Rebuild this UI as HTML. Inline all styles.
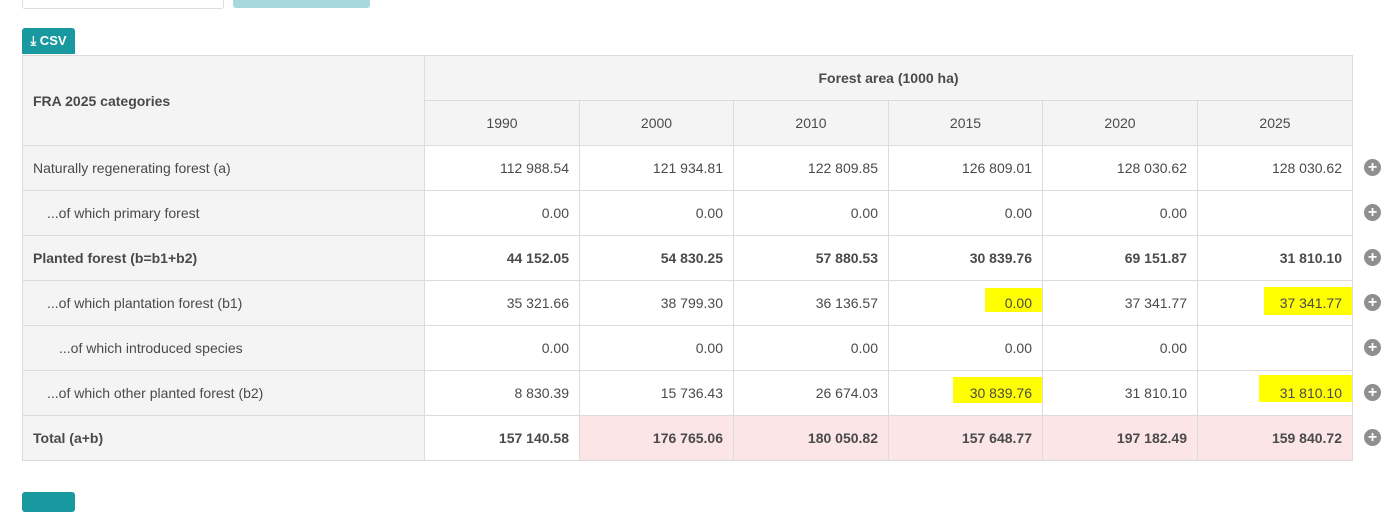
<!DOCTYPE html>
<html><head><meta charset="utf-8">
<style>
body{margin:0;width:1400px;height:500px;background:#fff;position:relative;overflow:hidden;font-family:"Liberation Sans",sans-serif;color:#4a4a4a;font-size:14px}
.abs{position:absolute}
table{position:absolute;left:22px;top:55px;border-collapse:collapse;table-layout:fixed;width:1331px}
td,th{border:1px solid #dcdcdc;height:45px;padding:0 10px;box-sizing:border-box;font-weight:normal}
tr{height:45px}
th{background:#f4f4f4;text-align:center}
td.l{background:#f4f4f4;text-align:left}
td.n{text-align:right;background:#fff}
tr.b td{font-weight:bold}
tr.t td.p{background:#fbe5e7}
.hl{position:absolute;background:#ffff00;z-index:-1}
.plus{position:absolute;left:1364px;width:17px;height:17px;border-radius:50%;background:#8f8f8f;color:#fff;font-weight:bold;font-size:16px;line-height:17px;text-align:center}
</style></head><body>
<div class="abs" style="left:22px;top:-2px;width:200px;height:9px;border:1px solid #ddd;border-radius:3px"></div>
<div class="abs" style="left:233px;top:-2px;width:137px;height:10px;background:#a6d8dc;border-radius:3px"></div>
<div class="abs" style="left:22px;top:28px;width:53px;height:26px;background:#17999f;border-radius:3px 3px 0 0;color:#fff;font-weight:bold;font-size:13px;line-height:26px;text-align:center">&#10515; CSV</div>
<div class="hl" style="left:985px;top:288px;width:73px;height:24px"></div>
<div class="hl" style="left:1264px;top:287px;width:88px;height:28px"></div>
<div class="hl" style="left:953px;top:377px;width:92px;height:26px"></div>
<div class="hl" style="left:1259px;top:375px;width:93px;height:27px"></div>
<table>
<colgroup><col style="width:402px"><col style="width:155px"><col style="width:154px"><col style="width:155px"><col style="width:154px"><col style="width:155px"><col style="width:155px"></colgroup>
<tr><th rowspan="2" style="text-align:left;font-weight:bold">FRA 2025 categories</th><th colspan="6" style="font-weight:bold">Forest area (1000 ha)</th></tr>
<tr><th>1990</th><th>2000</th><th>2010</th><th>2015</th><th>2020</th><th>2025</th></tr>
<tr><td class="l">Naturally regenerating forest (a)</td><td class="n">112 988.54</td><td class="n">121 934.81</td><td class="n">122 809.85</td><td class="n">126 809.01</td><td class="n">128 030.62</td><td class="n">128 030.62</td></tr>
<tr><td class="l" style="padding-left:24px">...of which primary forest</td><td class="n">0.00</td><td class="n">0.00</td><td class="n">0.00</td><td class="n">0.00</td><td class="n">0.00</td><td class="n"></td></tr>
<tr class="b"><td class="l">Planted forest (b=b1+b2)</td><td class="n">44 152.05</td><td class="n">54 830.25</td><td class="n">57 880.53</td><td class="n">30 839.76</td><td class="n">69 151.87</td><td class="n">31 810.10</td></tr>
<tr><td class="l" style="padding-left:24px">...of which plantation forest (b1)</td><td class="n">35 321.66</td><td class="n">38 799.30</td><td class="n">36 136.57</td><td class="n" style="background:transparent">0.00</td><td class="n">37 341.77</td><td class="n" style="background:transparent">37 341.77</td></tr>
<tr><td class="l" style="padding-left:36px">...of which introduced species</td><td class="n">0.00</td><td class="n">0.00</td><td class="n">0.00</td><td class="n">0.00</td><td class="n">0.00</td><td class="n"></td></tr>
<tr><td class="l" style="padding-left:24px">...of which other planted forest (b2)</td><td class="n">8 830.39</td><td class="n">15 736.43</td><td class="n">26 674.03</td><td class="n" style="background:transparent">30 839.76</td><td class="n">31 810.10</td><td class="n" style="background:transparent">31 810.10</td></tr>
<tr class="b t"><td class="l">Total (a+b)</td><td class="n">157 140.58</td><td class="n p">176 765.06</td><td class="n p">180 050.82</td><td class="n p">157 648.77</td><td class="n p">197 182.49</td><td class="n p">159 840.72</td></tr>
</table>
<div class="plus" style="top:159px">+</div>
<div class="plus" style="top:204px">+</div>
<div class="plus" style="top:249px">+</div>
<div class="plus" style="top:294px">+</div>
<div class="plus" style="top:339px">+</div>
<div class="plus" style="top:384px">+</div>
<div class="plus" style="top:429px">+</div>
<div class="abs" style="left:22px;top:492px;width:53px;height:20px;background:#17999f;border-radius:3px"></div>
</body></html>
